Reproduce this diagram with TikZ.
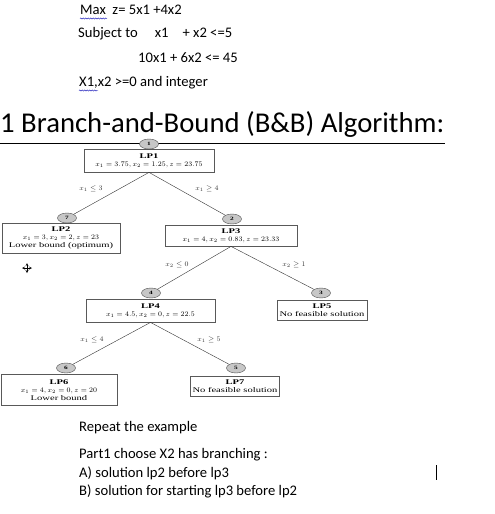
\documentclass[tikz,border=0pt]{standalone}
\usepackage{amsmath}
\usepackage{fontspec}
\setmainfont{Carlito}
\newfontfamily\treefont[FakeStretch=1.47]{Liberation Serif}
\usetikzlibrary{shapes.geometric,decorations.pathmorphing}

\tikzset{
  lpbox/.style={draw=black!65, thin, fill=white, anchor=north, align=center,
    inner sep=1pt, font=\treefont\fontsize{7.2}{8}\selectfont},
  numnode/.style={draw=black!70, ellipse, fill=black!22, minimum width=19bp,
    minimum height=10bp, inner sep=0pt, font=\treefont\bfseries\fontsize{5}{5}\selectfont},
  cutlabel/.style={font=\fontsize{7.5}{7.5}\selectfont, text=black!80},
  branch/.style={draw=black!80, thin},
  note/.style={anchor=base west, inner sep=0pt, font=\fontsize{14.67}{16}\selectfont},
  squiggle/.style={draw=blue!70!black, decorate,
    decoration={snake, amplitude=0.6bp, segment length=2.5bp}}
}

\begin{document}
\begin{tikzpicture}[x=1bp, y=-1bp]
      \useasboundingbox (0,0) rectangle (495,514);
      % problem statement
      \node[note] (obj) at (80,15) {Max\ \ z= 5x1 +4x2};
      \node[note] (st) at (78,38) {Subject to\hspace{17bp}x1\hspace{14bp}+ x2 <=5};
      \node[note] (c2) at (138,63) {10x1 + 6x2 <= 45};
      \node[note] (sgn) at (79,87) {X1,x2 >=0 and integer};
      \draw[squiggle] (80,18.5) -- (107,18.5);
      \draw[squiggle] (79,90.5) -- (98,90.5);
      % title
      \node[anchor=base west, inner sep=0pt, font=\fontsize{28.8}{30}\selectfont] (title) at (0,133)
        {1 Branch-and-Bound (B\&B) Algorithm:};
      \draw[thin] (0,143) -- (445,143);
      % tree
      \node[lpbox, minimum width=130bp, minimum height=23bp] (lp1) at (149,149)
        {\textbf{LP1}\\ $x_1=3.75, x_2=1.25, z=23.75$};
      \node[numnode] (n1) at (149,144) {1};
      \node[lpbox, minimum width=118bp, minimum height=30bp] (lp2) at (61,223)
        {\textbf{LP2}\\ $x_1=3, x_2=2, z=23$\\ Lower bound (optimum)};
      \node[numnode] (n7) at (67,218) {7};
      \node[lpbox, minimum width=132bp, minimum height=21bp] (lp3) at (231,225)
        {\textbf{LP3}\\ $x_1=4, x_2=0.83, z=23.33$};
      \node[numnode] (n2) at (232,219) {2};
      \node[lpbox, minimum width=129bp, minimum height=23bp] (lp4) at (150.5,299)
        {\textbf{LP4}\\ $x_1=4.5, x_2=0, z=22.5$};
      \node[numnode] (n4) at (151,293) {4};
      \node[lpbox, minimum width=90bp, minimum height=20bp] (lp5) at (322,300)
        {\textbf{LP5}\\ No feasible solution};
      \node[numnode] (n3) at (321,293) {3};
      \node[lpbox, minimum width=116bp, minimum height=31bp] (lp6) at (59,374)
        {\textbf{LP6}\\ $x_1=4, x_2=0, z=20$\\ Lower bound};
      \node[numnode] (n6) at (66,368) {6};
      \node[lpbox, minimum width=89bp, minimum height=20bp] (lp7) at (235,376)
        {\textbf{LP7}\\ No feasible solution};
      \node[numnode] (n5) at (236,368) {5};
      \draw[branch] (lp1.south) -- (n7);
      \draw[branch] (lp1.south) -- (n2);
      \draw[branch] (lp3.south) -- (n4);
      \draw[branch] (lp3.south) -- (n3);
      \draw[branch] (lp4.south) -- (n6);
      \draw[branch] (lp4.south) -- (n5);
      \node[cutlabel] (c13) at (91,189) {$x_1\le 3$};
      \node[cutlabel] (c14) at (207,189) {$x_1\ge 4$};
      \node[cutlabel] (c20) at (177,265) {$x_2\le 0$};
      \node[cutlabel] (c21) at (294,265) {$x_2\ge 1$};
      \node[cutlabel] (c44) at (92,340) {$x_1\le 4$};
      \node[cutlabel] (c45) at (209,340) {$x_1\ge 5$};
      % move cursor
      \draw[thin, <->, >=stealth] (22,268) -- (32,268);
      \draw[thin, <->, >=stealth] (27,263) -- (27,273);
      % exercise
      \node[note] (rep) at (79,431) {Repeat the example};
      \node[note] (p1) at (79,458) {Part1 choose X2 has branching :};
      \node[note] (pa) at (79,477) {A) solution lp2 before lp3};
      \node[note] (pb) at (79,495) {B) solution for starting lp3 before lp2};
      \draw[thin] (436,465) -- (436,480);
\end{tikzpicture}
\end{document}
